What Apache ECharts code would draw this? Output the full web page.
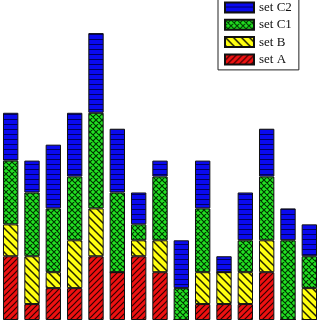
<!DOCTYPE html>
<html>
<head>
<meta charset="utf-8">
<script src="https://cdn.jsdelivr.net/npm/echarts@6/dist/echarts.min.js"></script>
<style>html,body{margin:0;padding:0;background:#fff}#c{width:320px;height:320px}</style>
</head>
<body>
<div id="c"></div>
<script>
var categories = ['1','2','3','4','5','6','7','8','9','10','11','12','13','14','15'];
var setA  = [4,1,2,2,4,3,4,3,0,1,1,1,3,0,0];
var setB  = [2,3,1,3,3,0,1,2,0,2,2,2,2,0,2];
var setC1 = [4,4,4,4,6,5,1,4,2,4,0,2,4,5,2];
var setC2 = [3,2,4,4,5,4,2,1,3,3,1,3,3,2,2];
var legendOrder = ['set C2','set C1','set B','set A'];

function tile(size, bg, lineColor, lw, segs) {
  var c = document.createElement('canvas');
  c.width = size; c.height = size;
  var g = c.getContext('2d');
  g.fillStyle = bg; g.fillRect(0,0,size,size);
  g.strokeStyle = lineColor; g.lineWidth = lw;
  g.beginPath();
  segs.forEach(function(s){ g.moveTo(s[0],s[1]); g.lineTo(s[2],s[3]); });
  g.stroke();
  return {image: c, repeat: 'repeat'};
}
function fwd(s){ return [[-1,s+1,s+1,-1],[-1,1,1,-1],[s-1,s+1,s+1,s-1]]; }
function back(s){ return [[-1,-1,s+1,s+1],[-1,s-1,1,s+1],[s-1,-1,s+1,1]]; }

var patA  = tile(6, '#ee1111', '#300000', 1.2, fwd(6));
var patB  = tile(8, '#ffff10', '#222200', 1.5, back(8));
var patC1 = tile(6, '#22e022', '#003300', 1.1, fwd(6).concat(back(6)));
var patC2 = tile(5, '#0a0aee', '#000060', 1, [[0,4.5,5,4.5]]);

function mk(name, data, pat) {
  return {
    name: name, type: 'bar', stack: 'all', data: data, barWidth: '72%',
    itemStyle: {color: pat, borderColor: '#111', borderWidth: 1},
    emphasis: {disabled: true}
  };
}

var chart = echarts.init(document.getElementById('c'), null, {renderer: 'canvas'});
chart.setOption({
  animation: false,
  backgroundColor: '#fff',
  grid: {left: 0, right: 0, top: 1.2, bottom: -2.8},
  xAxis: {type: 'category', data: categories, show: false},
  yAxis: {type: 'value', min: 0, max: 20, show: false},
  legend: {
    data: legendOrder, orient: 'vertical', left: 218, top: -5,
    padding: [6, 7, 4, 6], itemWidth: 29, itemHeight: 10, itemGap: 4.3,
    icon: 'rect', backgroundColor: '#fff', borderColor: '#222', borderWidth: 1,
    textStyle: {fontFamily: 'Liberation Serif', fontSize: 13, color: '#111'}
  },
  series: [
    mk('set A', setA, patA),
    mk('set B', setB, patB),
    mk('set C1', setC1, patC1),
    mk('set C2', setC2, patC2)
  ]
});
</script>
</body>
</html>
